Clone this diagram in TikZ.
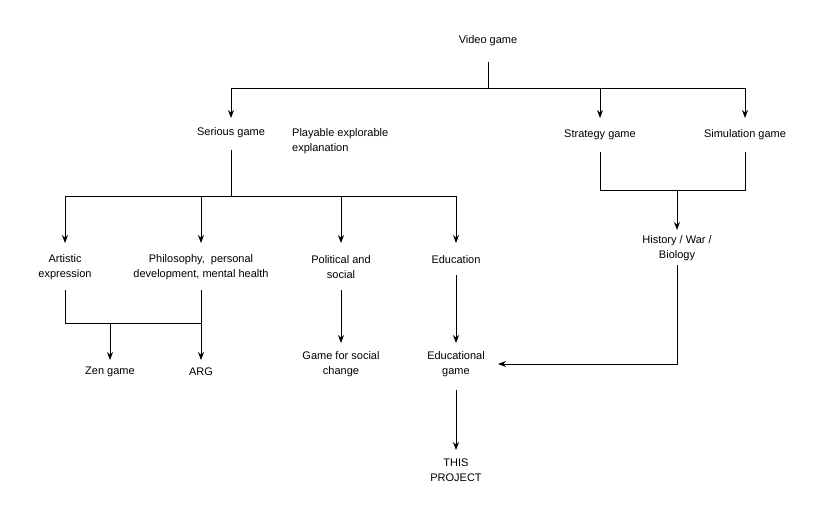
\documentclass[tikz,border=0pt]{standalone}
\usepackage{fontspec}
\setmainfont{Liberation Sans}
\usetikzlibrary{arrows.meta}
\begin{document}
\begin{tikzpicture}[x=1pt,y=-1pt,
    box/.style={align=center,font=\fontsize{11}{15}\selectfont,inner sep=0pt},
    link/.style={-{Stealth[length=8pt,width=6pt]},line width=0.8pt},
    line/.style={line width=0.8pt}]
    \useasboundingbox (0,0) rectangle (821,511);

    % Top levels
    \node[box] (vg) at (488,41) {Video game};
    \node[box] (ser) at (231,133) {Serious game};
    \node[box,align=left,anchor=west] (pee) at (292,141) {Playable explorable\\explanation};
    \node[box] (str) at (600,135) {Strategy game};
    \node[box] (sim) at (745,135) {Simulation game};

    % Serious game branches
    \node[box] (art) at (65,267) {Artistic\\expression};
    \node[box] (phi) at (201,267) {Philosophy,~ personal\\development, mental health};
    \node[box] (pol) at (341,267) {Political and\\social};
    \node[box] (edu) at (456,260) {Education};
    \node[box] (hist) at (677,248) {History / War /\\Biology};

    % Leaves
    \node[box] (zen) at (110,372) {Zen game};
    \node[box] (arg) at (201,372) {ARG};
    \node[box] (gsc) at (341,364) {Game for social\\change};
    \node[box] (eg) at (456,364) {Educational\\game};
    \node[box] (tp) at (456,470) {THIS\\PROJECT};

    % Junctions
    \coordinate (j1) at (488,88);
    \coordinate (j2) at (231,196);
    \coordinate (j3) at (201,323);
    \coordinate (j4) at (677,190);

    % Video game
    \draw[line] (488,62) -- (j1);
    \draw[link] (j1) -| (231,118);
    \draw[link] (j1) -| (600,118);
    \draw[link] (j1) -| (745,118);

    % Serious game
    \draw[line] (231,150) -- (j2);
    \draw[link] (j2) -| (65,243);
    \draw[link] (j2) -| (201,243);
    \draw[link] (j2) -| (341,243);
    \draw[link] (j2) -| (456,243);

    % Artistic / Philosophy
    \draw[line] (65,290) |- (j3);
    \draw[link] (201,290) -- (201,360);
    \draw[link] (110,323) -- (110,360);

    % Political, Education
    \draw[link] (341,290) -- (341,343);
    \draw[link] (456,275) -- (456,343);
    \draw[link] (456,390) -- (456,450);

    % Strategy / Simulation
    \draw[line] (600,152) |- (745,190) -- (745,152);
    \draw[link] (j4) -- (677,230);
    \draw[link] (677,265) |- (498,364);
\end{tikzpicture}
\end{document}
